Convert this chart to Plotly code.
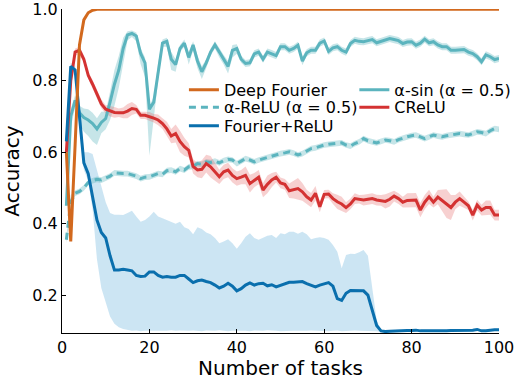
import plotly.graph_objects as go

tasks = list(range(1, 101))

deep_fourier = [0.60, 0.35, 0.62, 0.90, 0.97, 0.99, 0.997] + [1.0] * 93

fourier_relu = [
    0.63, 0.84, 0.83, 0.70, 0.57, 0.54, 0.47, 0.41, 0.375, 0.36,
    0.31, 0.27, 0.27, 0.272, 0.27, 0.268, 0.255, 0.252, 0.253, 0.265,
    0.265, 0.255, 0.25, 0.252, 0.25, 0.25, 0.255, 0.255, 0.245, 0.235,
    0.24, 0.242, 0.238, 0.235, 0.228, 0.22, 0.225, 0.233, 0.225, 0.212,
    0.218, 0.228, 0.234, 0.228, 0.232, 0.233, 0.226, 0.229, 0.223, 0.228,
    0.232, 0.236, 0.236, 0.236, 0.238, 0.232, 0.228, 0.223, 0.228, 0.232,
    0.235, 0.225, 0.19, 0.185, 0.205, 0.213, 0.213, 0.213, 0.212, 0.20,
    0.16, 0.115, 0.10, 0.098, 0.099, 0.100, 0.100, 0.100, 0.101, 0.101,
    0.102, 0.100, 0.100, 0.098, 0.099, 0.100, 0.100, 0.100, 0.101, 0.101,
    0.100, 0.100, 0.101, 0.102, 0.104, 0.100, 0.100, 0.102, 0.103, 0.103,
]
fourier_relu_hi = [
    0.64, 0.85, 0.84, 0.74, 0.60, 0.60, 0.595, 0.55, 0.50, 0.46,
    0.43, 0.425, 0.425, 0.424, 0.43, 0.436, 0.42, 0.405, 0.41, 0.42,
    0.433, 0.42, 0.415, 0.41, 0.405, 0.40, 0.405, 0.39, 0.385, 0.37,
    0.39, 0.385, 0.375, 0.37, 0.36, 0.345, 0.35, 0.356, 0.345, 0.33,
    0.345, 0.363, 0.373, 0.36, 0.355, 0.36, 0.366, 0.368, 0.36, 0.373,
    0.37, 0.377, 0.377, 0.372, 0.377, 0.37, 0.356, 0.36, 0.362, 0.36,
    0.355, 0.34, 0.321, 0.275, 0.312, 0.316, 0.315, 0.32, 0.326, 0.31,
    0.214, 0.13, 0.104, 0.101, 0.102, 0.103, 0.103, 0.103, 0.104, 0.104,
    0.105, 0.103, 0.103, 0.101, 0.102, 0.103, 0.103, 0.103, 0.104, 0.104,
    0.103, 0.103, 0.104, 0.105, 0.107, 0.103, 0.103, 0.105, 0.106, 0.106,
]
fourier_relu_lo = [
    0.62, 0.83, 0.82, 0.66, 0.55, 0.52, 0.44, 0.30, 0.22, 0.18,
    0.14, 0.12, 0.11, 0.105, 0.102, 0.100, 0.101, 0.099, 0.100, 0.100,
    0.101, 0.100, 0.099, 0.100, 0.102, 0.100, 0.101, 0.100, 0.100, 0.101,
    0.100, 0.099, 0.101, 0.100, 0.100, 0.102, 0.100, 0.099, 0.100, 0.101,
    0.100, 0.100, 0.099, 0.101, 0.100, 0.100, 0.102, 0.100, 0.100, 0.099,
    0.100, 0.101, 0.100, 0.100, 0.099, 0.100, 0.101, 0.100, 0.100, 0.100,
    0.099, 0.100, 0.101, 0.099, 0.100, 0.100, 0.101, 0.100, 0.100, 0.100,
    0.100, 0.099, 0.097, 0.095, 0.096, 0.097, 0.097, 0.097, 0.098, 0.098,
    0.099, 0.097, 0.097, 0.095, 0.096, 0.097, 0.097, 0.097, 0.098, 0.098,
    0.097, 0.097, 0.098, 0.099, 0.101, 0.097, 0.097, 0.099, 0.100, 0.100,
]

crelu = [
    0.60, 0.80, 0.88, 0.885, 0.86, 0.815, 0.79, 0.762, 0.735, 0.72,
    0.715, 0.711, 0.71, 0.71, 0.715, 0.722, 0.72, 0.703, 0.703, 0.70,
    0.695, 0.69, 0.68, 0.665, 0.645, 0.652, 0.63, 0.615, 0.605, 0.56,
    0.55, 0.552, 0.568, 0.559, 0.545, 0.531, 0.545, 0.55, 0.535, 0.526,
    0.53, 0.535, 0.512, 0.522, 0.53, 0.494, 0.51, 0.522, 0.53, 0.514,
    0.51, 0.492, 0.495, 0.498, 0.489, 0.475, 0.466, 0.485, 0.447, 0.482,
    0.483, 0.47, 0.461, 0.455, 0.445, 0.455, 0.47, 0.468, 0.466, 0.468,
    0.47, 0.466, 0.465, 0.462, 0.468, 0.477, 0.47, 0.46, 0.465, 0.466,
    0.466, 0.438, 0.46, 0.475, 0.46, 0.474, 0.465, 0.456, 0.445, 0.46,
    0.47, 0.46, 0.45, 0.424, 0.452, 0.438, 0.445, 0.445, 0.424, 0.424,
]
crelu_err = [
    0.01, 0.015, 0.01, 0.01, 0.01, 0.01, 0.012, 0.012, 0.012, 0.012,
    0.015, 0.015, 0.012, 0.015, 0.02, 0.018, 0.012, 0.01, 0.01, 0.012,
    0.012, 0.015, 0.015, 0.02, 0.02, 0.025, 0.03, 0.025, 0.02, 0.02,
    0.02, 0.025, 0.025, 0.03, 0.025, 0.02, 0.02, 0.02, 0.02, 0.02,
    0.02, 0.025, 0.025, 0.02, 0.02, 0.02, 0.025, 0.02, 0.015, 0.015,
    0.015, 0.02, 0.025, 0.03, 0.025, 0.02, 0.02, 0.02, 0.015, 0.012,
    0.012, 0.015, 0.02, 0.02, 0.015, 0.015, 0.015, 0.012, 0.015, 0.015,
    0.015, 0.015, 0.015, 0.02, 0.02, 0.015, 0.015, 0.015, 0.02, 0.02,
    0.02, 0.02, 0.02, 0.02, 0.015, 0.02, 0.03, 0.04, 0.035, 0.02,
    0.02, 0.015, 0.012, 0.015, 0.015, 0.015, 0.02, 0.02, 0.015, 0.015,
]

alpha_sin = [
    0.45, 0.70, 0.745, 0.71, 0.697, 0.69, 0.68, 0.665, 0.683, 0.694,
    0.74, 0.79, 0.83, 0.89, 0.928, 0.932, 0.925, 0.876, 0.85, 0.72,
    0.74, 0.83, 0.905, 0.91, 0.86, 0.845, 0.89, 0.905, 0.865, 0.90,
    0.855, 0.825, 0.85, 0.88, 0.90, 0.88, 0.86, 0.84, 0.885, 0.89,
    0.86, 0.848, 0.85, 0.875, 0.88, 0.86, 0.88, 0.876, 0.87, 0.895,
    0.895, 0.885, 0.89, 0.899, 0.855, 0.878, 0.885, 0.885, 0.905, 0.911,
    0.882, 0.892, 0.895, 0.885, 0.88, 0.904, 0.913, 0.91, 0.909, 0.912,
    0.915, 0.906, 0.91, 0.913, 0.918, 0.915, 0.912, 0.904, 0.908, 0.909,
    0.899, 0.905, 0.916, 0.906, 0.909, 0.90, 0.895, 0.895, 0.885, 0.885,
    0.885, 0.887, 0.88, 0.876, 0.867, 0.853, 0.872, 0.867, 0.859, 0.862,
]
alpha_sin_err_plus = [
    0.01, 0.02, 0.015, 0.02, 0.025, 0.03, 0.03, 0.03, 0.03, 0.02,
    0.03, 0.04, 0.04, 0.03, 0.01, 0.008, 0.01, 0.015, 0.015, 0.01,
    0.015, 0.02, 0.01, 0.01, 0.02, 0.015, 0.01, 0.01, 0.015, 0.01,
    0.015, 0.015, 0.01, 0.01, 0.01, 0.01, 0.012, 0.015, 0.015, 0.012,
    0.01, 0.01, 0.01, 0.01, 0.01, 0.01, 0.01, 0.01, 0.01, 0.01,
    0.01, 0.01, 0.01, 0.01, 0.012, 0.01, 0.01, 0.01, 0.01, 0.01,
    0.01, 0.01, 0.01, 0.01, 0.01, 0.01, 0.01, 0.01, 0.01, 0.01,
    0.01, 0.01, 0.01, 0.01, 0.01, 0.01, 0.01, 0.01, 0.01, 0.01,
    0.01, 0.01, 0.01, 0.01, 0.01, 0.01, 0.01, 0.01, 0.01, 0.01,
    0.01, 0.01, 0.01, 0.01, 0.01, 0.01, 0.01, 0.01, 0.01, 0.01,
]
alpha_sin_err_minus = [
    0.01, 0.03, 0.02, 0.03, 0.04, 0.045, 0.05, 0.045, 0.03, 0.03,
    0.05, 0.06, 0.05, 0.04, 0.015, 0.01, 0.015, 0.03, 0.04, 0.13,
    0.04, 0.03, 0.01, 0.015, 0.03, 0.02, 0.01, 0.01, 0.02, 0.015,
    0.02, 0.02, 0.015, 0.01, 0.01, 0.015, 0.015, 0.02, 0.02, 0.015,
    0.01, 0.01, 0.01, 0.01, 0.01, 0.01, 0.01, 0.01, 0.01, 0.01,
    0.01, 0.01, 0.01, 0.01, 0.012, 0.01, 0.01, 0.01, 0.01, 0.01,
    0.01, 0.01, 0.01, 0.01, 0.01, 0.01, 0.01, 0.01, 0.01, 0.01,
    0.01, 0.01, 0.01, 0.01, 0.01, 0.01, 0.01, 0.01, 0.01, 0.01,
    0.01, 0.01, 0.01, 0.01, 0.01, 0.01, 0.01, 0.01, 0.01, 0.01,
    0.01, 0.01, 0.01, 0.01, 0.01, 0.01, 0.01, 0.01, 0.01, 0.01,
]

alpha_relu = [
    0.355, 0.46, 0.485, 0.49, 0.50, 0.515, 0.52, 0.524, 0.522, 0.527,
    0.533, 0.542, 0.54, 0.54, 0.54, 0.537, 0.533, 0.526, 0.53, 0.531,
    0.535, 0.54, 0.538, 0.548, 0.55, 0.545, 0.554, 0.55, 0.559, 0.56,
    0.568, 0.566, 0.573, 0.571, 0.575, 0.57, 0.576, 0.58, 0.578, 0.568,
    0.575, 0.582, 0.578, 0.573, 0.578, 0.582, 0.585, 0.588, 0.592, 0.596,
    0.598, 0.601, 0.597, 0.592, 0.596, 0.603, 0.61, 0.612, 0.617, 0.62,
    0.622, 0.624, 0.625, 0.626, 0.62, 0.617, 0.624, 0.629, 0.638, 0.632,
    0.629, 0.626, 0.63, 0.634, 0.632, 0.629, 0.635, 0.64, 0.643, 0.646,
    0.648, 0.643, 0.638, 0.643, 0.648, 0.645, 0.643, 0.646, 0.648, 0.65,
    0.652, 0.65, 0.648, 0.652, 0.657, 0.655, 0.652, 0.66, 0.666, 0.664,
]
alpha_relu_err = [0.01, 0.02] + [0.008] * 98

names = ["Deep Fourier", "α-sin (α = 0.5)", "α-ReLU (α = 0.5)", "CReLU", "Fourier+ReLU"]
colors = {"df": "#D2691E", "sin": "#5BB4BE", "relu": "#5BB4BE", "crelu": "#D43232", "fr": "#0A6FAD"}
bands = {"sin": "rgba(91,180,190,0.35)", "relu": "rgba(91,180,190,0.35)",
         "crelu": "rgba(230,100,100,0.3)", "fr": "rgba(110,180,220,0.35)"}

fig = go.Figure()


def add_band(lo, hi, fill):
    fig.add_trace(go.Scatter(x=tasks, y=hi, mode="lines", line=dict(width=0),
                             showlegend=False, hoverinfo="skip"))
    fig.add_trace(go.Scatter(x=tasks, y=lo, mode="lines", line=dict(width=0),
                             fill="tonexty", fillcolor=fill, showlegend=False, hoverinfo="skip"))


add_band(fourier_relu_lo, fourier_relu_hi, bands["fr"])
add_band([v - e for v, e in zip(alpha_relu, alpha_relu_err)],
         [v + e for v, e in zip(alpha_relu, alpha_relu_err)], bands["relu"])
add_band([v - e for v, e in zip(alpha_sin, alpha_sin_err_minus)],
         [v + e for v, e in zip(alpha_sin, alpha_sin_err_plus)], bands["sin"])
add_band([v - e for v, e in zip(crelu, crelu_err)],
         [v + e for v, e in zip(crelu, crelu_err)], bands["crelu"])

lw = 3
fig.add_trace(go.Scatter(x=tasks, y=alpha_relu, mode="lines", name=names[2], legend="legend2",
                         line=dict(color=colors["relu"], width=lw, dash="7px,5px")))
fig.add_trace(go.Scatter(x=tasks, y=alpha_sin, mode="lines", name=names[1], legend="legend4",
                         line=dict(color=colors["sin"], width=lw)))
fig.add_trace(go.Scatter(x=tasks, y=crelu, mode="lines", name=names[3], legend="legend5",
                         line=dict(color=colors["crelu"], width=lw)))
fig.add_trace(go.Scatter(x=tasks, y=fourier_relu, mode="lines", name=names[4], legend="legend3",
                         line=dict(color=colors["fr"], width=lw)))
fig.add_trace(go.Scatter(x=tasks, y=deep_fourier, mode="lines", name=names[0], legend="legend",
                         line=dict(color=colors["df"], width=lw), cliponaxis=False))

font_family = "DejaVu Sans"


def leg(x, y):
    return dict(
        x=x, y=y, orientation="v", yanchor="top", xanchor="left", traceorder="normal",
        font=dict(family=font_family, size=16, color="black"),
        bgcolor="rgba(0,0,0,0)", itemwidth=30,
    )


col1, col2 = 0.279, 0.669
row1, row2, row3 = 0.803, 0.749, 0.692

fig.update_layout(
    width=522, height=380,
    margin=dict(l=62, r=23, t=9, b=47, autoexpand=False),
    paper_bgcolor="white", plot_bgcolor="white",
    font=dict(family=font_family, size=16, color="black"),
    showlegend=True,
    legend=leg(col1, row1),
    legend2=leg(col1, row2),
    legend3=leg(col1, row3),
    legend4=leg(col2, row1),
    legend5=leg(col2, row2),
    xaxis=dict(
        range=[0, 100], tickvals=[0, 20, 40, 60, 80, 100],
        ticktext=["0", "20", "40", "60", "80", "100"],
        showgrid=False, zeroline=False, showline=True, linecolor="black", linewidth=1,
        ticks="inside", ticklen=4, tickcolor="black", automargin=False,
        tickfont=dict(size=16),
        title=dict(text="Number of tasks", font=dict(size=20), standoff=3),
    ),
    yaxis=dict(
        range=[0.094, 1.0005], tickvals=[0.2, 0.4, 0.6, 0.8, 1.0],
        ticktext=["0.2", "0.4", "0.6", "0.8", "1.0"],
        showgrid=False, zeroline=False, showline=True, linecolor="black", linewidth=1,
        ticks="inside", ticklen=4, tickcolor="black", automargin=False,
        ticklabeloverflow="allow",
        tickfont=dict(size=16),
        title=dict(text="Accuracy", font=dict(size=20), standoff=10),
    ),
)

fig.write_html("out.html", config={"displayModeBar": False},
               post_script="document.body.style.margin='0';")
